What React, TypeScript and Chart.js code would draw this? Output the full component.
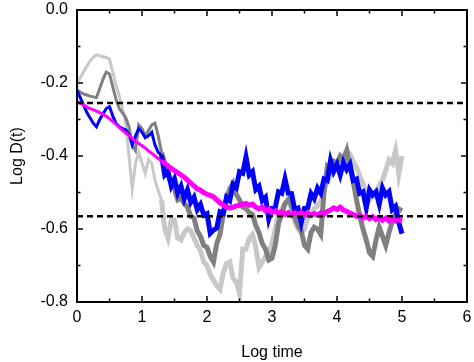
import React, { useEffect, useRef } from "react";
import { Chart, registerables } from "chart.js";

Chart.register(...registerables);

const logTime: number[] = Array.from({ length: 101 }, (_, i) => +(i * 0.05).toFixed(2));

const blueSeries: number[] = [
  -0.22, -0.24, -0.26, -0.28, -0.295, -0.31, -0.32, -0.30, -0.285, -0.27,
  -0.265, -0.29, -0.31, -0.32, -0.325, -0.328, -0.34, -0.37, -0.345, -0.325,
  -0.335, -0.35, -0.345, -0.335, -0.37, -0.39, -0.398, -0.452, -0.443, -0.482,
  -0.463, -0.502, -0.483, -0.517, -0.493, -0.527, -0.513, -0.547, -0.533, -0.562,
  -0.558, -0.612, -0.603, -0.597, -0.553, -0.557, -0.513, -0.522, -0.478, -0.487,
  -0.443, -0.447, -0.403, -0.452, -0.443, -0.492, -0.483, -0.522, -0.513, -0.572,
  -0.543, -0.542, -0.498, -0.502, -0.463, -0.502, -0.503, -0.547, -0.543, -0.582,
  -0.543, -0.542, -0.503, -0.517, -0.488, -0.502, -0.463, -0.467, -0.413, -0.442,
  -0.423, -0.452, -0.418, -0.437, -0.423, -0.467, -0.463, -0.502, -0.498, -0.542,
  -0.493, -0.507, -0.498, -0.532, -0.488, -0.507, -0.498, -0.547, -0.538, -0.582,
  -0.613,
];

const magentaSeries: number[] = [
  -0.25, -0.255, -0.26, -0.265, -0.27, -0.273, -0.277, -0.281, -0.286, -0.291,
  -0.298, -0.305, -0.313, -0.322, -0.33, -0.337, -0.344, -0.352, -0.36, -0.366,
  -0.372, -0.378, -0.386, -0.393, -0.4, -0.407, -0.414, -0.42, -0.427, -0.434,
  -0.44, -0.446, -0.452, -0.458, -0.466, -0.474, -0.482, -0.49, -0.494, -0.5,
  -0.505, -0.508, -0.512, -0.52, -0.528, -0.535, -0.54, -0.543, -0.54, -0.537,
  -0.535, -0.532, -0.53, -0.535, -0.532, -0.54, -0.545, -0.54, -0.55, -0.545,
  -0.555, -0.55, -0.558, -0.553, -0.56, -0.555, -0.562, -0.556, -0.56, -0.555,
  -0.562, -0.556, -0.563, -0.558, -0.562, -0.556, -0.56, -0.552, -0.548, -0.542,
  -0.546, -0.54, -0.548, -0.552, -0.556, -0.56, -0.565, -0.562, -0.57, -0.565,
  -0.572, -0.566, -0.574, -0.568, -0.576, -0.57, -0.578, -0.572, -0.578, -0.574,
  -0.578,
];

const darkGraySeries: number[] = [
  -0.22, -0.225, -0.23, -0.233, -0.236, -0.238, -0.24, -0.215, -0.19, -0.17,
  -0.175, -0.21, -0.245, -0.27, -0.282, -0.295, -0.32, -0.37, -0.385, -0.315,
  -0.325, -0.345, -0.33, -0.315, -0.31, -0.345, -0.39, -0.42, -0.45, -0.475,
  -0.49, -0.52, -0.515, -0.53, -0.54, -0.565, -0.57, -0.605, -0.62, -0.645,
  -0.65, -0.675, -0.69, -0.64, -0.615, -0.56, -0.52, -0.49, -0.475, -0.505,
  -0.52, -0.54, -0.545, -0.555, -0.56, -0.59, -0.61, -0.64, -0.655, -0.685,
  -0.68, -0.645, -0.585, -0.56, -0.53, -0.52, -0.535, -0.565, -0.59, -0.605,
  -0.645, -0.655, -0.61, -0.595, -0.6, -0.615, -0.5, -0.43, -0.44, -0.415,
  -0.42, -0.4, -0.41, -0.385, -0.43, -0.47, -0.52, -0.565, -0.6, -0.63,
  -0.665, -0.675, -0.63, -0.595, -0.62, -0.645, -0.61, -0.58, -0.56, -0.545,
  -0.55,
];

const lightGraySeries: number[] = [
  -0.2, -0.185, -0.17, -0.155, -0.14, -0.13, -0.123, -0.125, -0.128, -0.13,
  -0.135, -0.17, -0.205, -0.235, -0.27, -0.31, -0.4, -0.49, -0.42, -0.39,
  -0.42, -0.447, -0.41, -0.42, -0.466, -0.495, -0.52, -0.6, -0.625, -0.575,
  -0.575, -0.625, -0.63, -0.61, -0.6, -0.605, -0.625, -0.645, -0.66, -0.69,
  -0.7, -0.725, -0.74, -0.755, -0.765, -0.72, -0.695, -0.69, -0.735, -0.745,
  -0.775, -0.655, -0.655, -0.625, -0.615, -0.65, -0.705, -0.69, -0.675, -0.665,
  -0.64, -0.6, -0.56, -0.545, -0.53, -0.52, -0.545, -0.58, -0.6, -0.61,
  -0.6, -0.57, -0.56, -0.545, -0.535, -0.525, -0.495, -0.47, -0.455, -0.435,
  -0.42, -0.41, -0.4, -0.385, -0.395, -0.415, -0.43, -0.455, -0.475, -0.5,
  -0.52, -0.505, -0.5, -0.48, -0.466, -0.44, -0.41, -0.42, -0.385, -0.45,
  -0.4,
];

const refLevels: number[] = [-0.255, -0.565];
const xRange: number[] = [0, 6];
const yRange: number[] = [-0.8, 0];
const xTickStep = 1;
const yTickStep = 0.2;
const xMinorStep = 0.5;
const yMinorStep = 0.1;

const FONT = "'Liberation Sans', Arial, sans-serif";

const pts = (ys: number[]) => ys.map((y, i) => ({ x: logTime[i], y }));

const frameTicks = {
  id: "frameTicks",
  afterDraw(chart: any) {
    const { ctx, chartArea, scales } = chart;
    const { left, right, top, bottom } = chartArea;
    const xs = scales.x;
    const ys = scales.y;
    ctx.save();
    ctx.strokeStyle = "#000";
    ctx.lineWidth = 1.5;
    const line = (x1: number, y1: number, x2: number, y2: number) => {
      ctx.beginPath();
      ctx.moveTo(x1, y1);
      ctx.lineTo(x2, y2);
      ctx.stroke();
    };
    const nx = Math.round((xRange[1] - xRange[0]) / xMinorStep);
    for (let i = 0; i <= nx; i++) {
      const v = xRange[0] + i * xMinorStep;
      const px = xs.getPixelForValue(v);
      const r = v / xTickStep;
      const major = Math.abs(r - Math.round(r)) < 1e-6;
      const len = major ? 6 : 3.5;
      line(px, bottom, px, bottom - len);
      line(px, top, px, top + len);
    }
    const ny = Math.round((yRange[1] - yRange[0]) / yMinorStep);
    for (let i = 0; i <= ny; i++) {
      const v = yRange[0] + i * yMinorStep;
      const py = ys.getPixelForValue(v);
      const r = (v - yRange[0]) / yTickStep;
      const major = Math.abs(r - Math.round(r)) < 1e-6;
      const len = major ? 6 : 3.5;
      line(left, py, left + len, py);
      line(right, py, right - len, py);
    }
    ctx.lineWidth = 2;
    ctx.strokeRect(left, top, right - left, bottom - top);
    ctx.restore();
  },
};

export default function App() {
  const ref = useRef<HTMLCanvasElement | null>(null);
  useEffect(() => {
    if (!ref.current) return;
    const noisyWidth = (base: number, wide: number) => (c: any) =>
      c.p0.parsed.x >= 1.3 ? wide : base;
    const chart = new Chart(ref.current, {
      type: "line",
      data: {
        datasets: [
          ...refLevels.map((lv) => ({
            label: "ref " + lv,
            data: xRange.map((x) => ({ x, y: lv })),
            borderColor: "#000",
            borderWidth: 2.5,
            borderDash: [6, 4],
            pointRadius: 0,
            order: 0,
          })),
          {
            label: "magenta",
            data: pts(magentaSeries),
            borderColor: "#ff00ff",
            borderWidth: 3,
            segment: { borderWidth: noisyWidth(3, 5) },
            pointRadius: 0,
            order: 1,
          },
          {
            label: "blue",
            data: pts(blueSeries),
            borderColor: "#0000ff",
            borderWidth: 3,
            segment: { borderWidth: noisyWidth(3, 5) },
            pointRadius: 0,
            order: 2,
          },
          {
            label: "dark",
            data: pts(darkGraySeries),
            borderColor: "#808080",
            borderWidth: 3,
            segment: { borderWidth: noisyWidth(3, 5) },
            pointRadius: 0,
            order: 3,
          },
          {
            label: "light",
            data: pts(lightGraySeries),
            borderColor: "#c8c8c8",
            borderWidth: 3,
            segment: { borderWidth: noisyWidth(3, 5) },
            pointRadius: 0,
            order: 4,
          },
        ],
      },
      options: {
        responsive: false,
        animation: false,
        layout: { padding: { top: 10, right: 7, left: 0, bottom: 0 } },
        plugins: { legend: { display: false }, tooltip: { enabled: false } },
        elements: { line: { tension: 0 } },
        scales: {
          x: {
            type: "linear",
            min: xRange[0],
            max: xRange[1],
            grid: { display: false, drawTicks: false },
            border: { display: false },
            ticks: {
              stepSize: xTickStep,
              padding: 6,
              color: "#000",
              font: { family: FONT, size: 16 },
            },
            title: {
              display: true,
              text: "Log time",
              color: "#000",
              font: { family: FONT, size: 16 },
              padding: { top: 8, bottom: 0 },
            },
            afterFit: (s: any) => {
              s.height = 60;
              s.paddingLeft = 0;
              s.paddingRight = 0;
            },
          },
          y: {
            type: "linear",
            min: yRange[0],
            max: yRange[1],
            grid: { display: false, drawTicks: false },
            border: { display: false },
            ticks: {
              stepSize: yTickStep,
              padding: 9,
              color: "#000",
              font: { family: FONT, size: 16 },
              callback: (v: any) => Number(v).toFixed(1),
            },
            title: {
              display: true,
              text: "Log D(t)",
              color: "#000",
              font: { family: FONT, size: 16 },
              padding: { top: 8, bottom: 4 },
            },
            afterFit: (s: any) => {
              s.width = 77;
              s.paddingTop = 0;
              s.paddingBottom = 0;
            },
          },
        },
      },
      plugins: [frameTicks],
    });
    return () => chart.destroy();
  }, []);
  return (
    <div style={{ position: "fixed", left: 0, top: 0, width: 474, height: 362, background: "#fff" }}>
      <canvas ref={ref} width={474} height={362} style={{ width: 474, height: 362 }} />
    </div>
  );
}
